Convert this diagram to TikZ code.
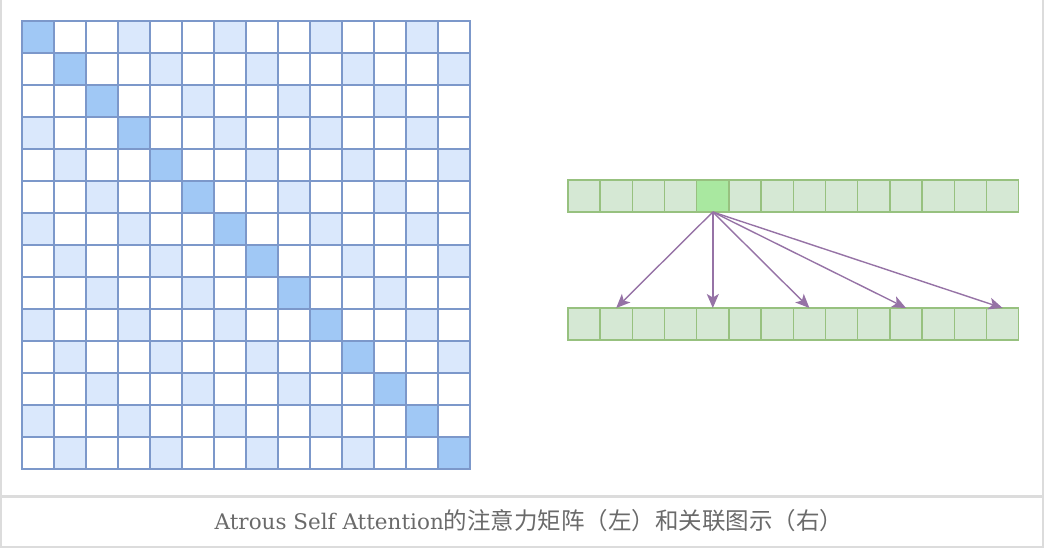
\documentclass[tikz,border=0pt]{standalone}
\usepackage{fontspec}
\setmainfont{DejaVu Serif}
\newfontfamily\cjk{Noto Sans CJK SC}
\usetikzlibrary{chains,arrows.meta}
\definecolor{gridline}{HTML}{7C98CA}
\definecolor{lightblue}{HTML}{DAE8FC}
\definecolor{darkblue}{HTML}{A0C8F5}
\definecolor{tokenline}{HTML}{97C17F}
\definecolor{tokenfill}{HTML}{D5E8D4}
\definecolor{tokensel}{HTML}{A9E8A0}
\definecolor{linkcol}{HTML}{9673A6}
\definecolor{framecol}{HTML}{DCDCDC}
\definecolor{captioncol}{HTML}{6A6A6A}
\tikzstyle{cell}=[draw=gridline,line width=1.4pt,minimum size=32pt,inner sep=0pt,outer sep=0pt]
\tikzstyle{cellw}=[cell,fill=white]
\tikzstyle{celll}=[cell,fill=lightblue]
\tikzstyle{celld}=[cell,fill=darkblue]
\tikzstyle{token}=[draw=tokenline,line width=1.4pt,fill=tokenfill,minimum width=32.2pt,minimum height=32pt,inner sep=0pt,outer sep=0pt]
\tikzstyle{picked}=[token,fill=tokensel]
\tikzstyle{link}=[draw=linkcol,line width=1.4pt,-{Stealth[length=14pt,width=12pt,inset=3.5pt]}]
\tikzstyle{frame}=[draw=framecol,line width=2.5pt]

\begin{document}
\begin{tikzpicture}[x=1pt,y=-1pt]
\useasboundingbox (0,0) rectangle (1048,550);
% attention matrix
\foreach \r in {0,...,13}{
  \foreach \c in {0,...,13}{
    \pgfmathtruncatemacro\gap{abs(\r-\c)}
    \pgfmathtruncatemacro\rest{mod(\gap,3)}
    \ifnum\gap=0 \def\sty{celld}\else\ifnum\rest=0 \def\sty{celll}\else\def\sty{cellw}\fi\fi
    \node[\sty] (m-\r-\c) at (38+32*\c,37+32*\r) {};
  }
}
% token rows
\begin{scope}[shift={(584,196)},start chain=top going right,node distance=0pt]
  \foreach \k in {1,...,14}{
    \ifnum\k=5 \def\sty{picked}\else\def\sty{token}\fi
    \node[on chain=top,\sty] (t\k) {};
  }
\end{scope}
\begin{scope}[shift={(584,324)},start chain=bot going right,node distance=0pt]
  \foreach \k in {1,...,14}
    \node[on chain=bot,token] (b\k) {};
\end{scope}
\foreach \k in {2,5,8,11,14}
  \draw[link] (t5.south) -- (b\k.north);
% frame and caption
\draw[frame] (1.2,0) -- (1.2,547.2) -- (1043,547.2) -- (1043,0);
\draw[frame] (1.2,496.5) -- (1043,496.5);
\node[text=captioncol,font=\fontsize{21.5}{26}\selectfont] (caption) at (529,521)
  {Atrous Self Attention{\cjk\fontsize{23.5}{26}\selectfont 的注意力矩阵（左）和关联图示（右）}};
\end{tikzpicture}
\end{document}
